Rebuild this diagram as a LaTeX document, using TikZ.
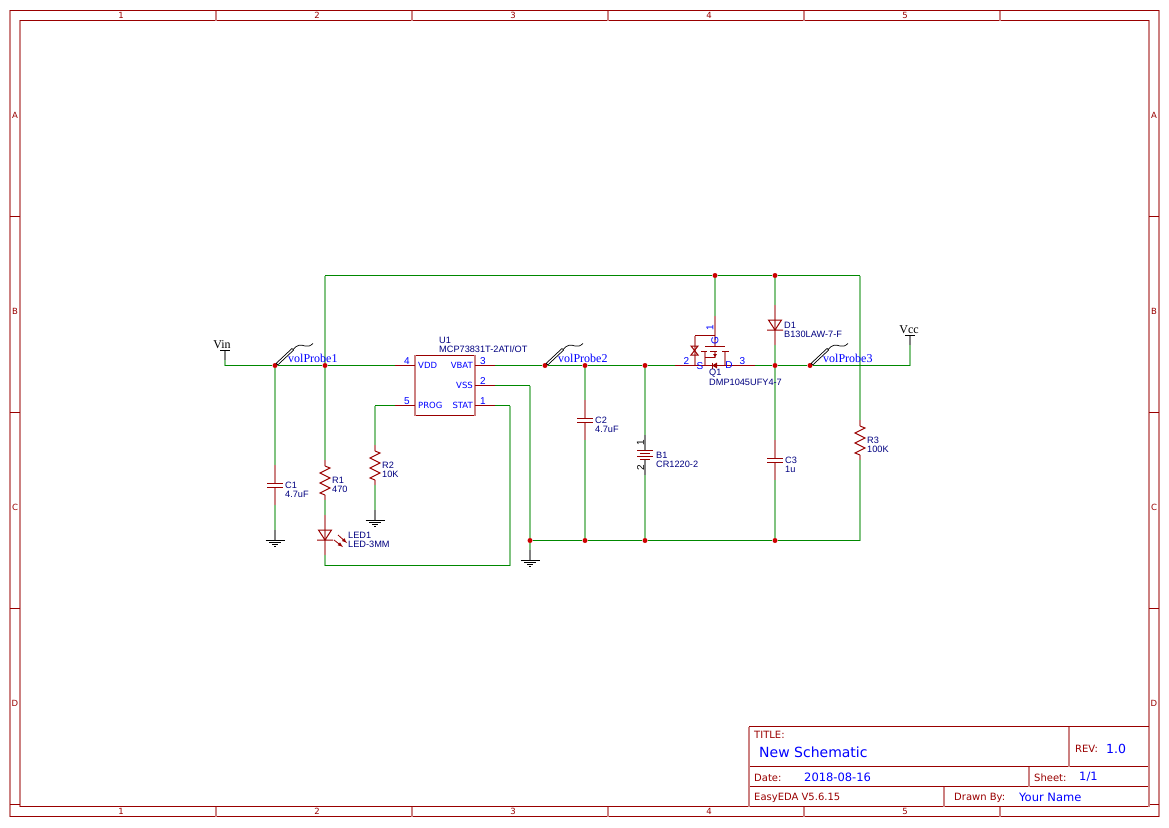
\documentclass[tikz,border=0pt]{standalone}
\usepackage{fontspec}
\setmainfont{DejaVu Sans}
\newfontfamily\partfont{Liberation Sans}
\newfontfamily\probefont{Liberation Serif}
\definecolor{sheetred}{HTML}{990000}
\definecolor{netgreen}{HTML}{008800}
\definecolor{dotred}{HTML}{CC0000}
\definecolor{partblue}{HTML}{000080}
\definecolor{pinblue}{HTML}{0000FF}
\tikzset{
  sheet/.style={draw=sheetred, line width=1pt},
  vsheet/.style={draw=sheetred!50, line width=2pt},
  wire/.style={draw=netgreen, line width=1pt},
  vwire/.style={draw=netgreen!50, line width=2pt},
  partline/.style={draw=sheetred, line width=1pt},
  vpart/.style={draw=sheetred!50, line width=2pt},
  vgray/.style={draw=black!50, line width=2pt},
  junction/.style={circle, fill=dotred, minimum size=5pt, inner sep=0pt},
  sheetlbl/.style={text=sheetred, inner sep=0pt, font=\fontsize{8.5}{8.5}\selectfont},
  titlelbl/.style={text=sheetred, anchor=west, inner sep=0pt, font=\fontsize{10}{10}\selectfont},
  valuelbl/.style={text=pinblue, anchor=west, inner sep=0pt, font=\fontsize{11.5}{11.5}\selectfont},
  partlbl/.style={text=partblue, anchor=west, inner sep=0pt, font=\partfont\fontsize{9.2}{9.2}\selectfont},
  pinlbl/.style={text=pinblue, inner sep=0pt, font=\fontsize{8.5}{8.5}\selectfont},
  pinnum/.style={text=pinblue, inner sep=0pt, font=\partfont\fontsize{10}{10}\selectfont},
  probelbl/.style={text=pinblue, anchor=west, inner sep=0pt, font=\probefont\fontsize{12}{12}\selectfont},
  flaglbl/.style={text=black, inner sep=0pt, font=\probefont\fontsize{12}{12}\selectfont},
  capsym/.pic={
    \coordinate (-a) at (0,-20); \coordinate (-b) at (0,20);
    \draw[vpart] (0,-20) -- (0,-2) (0,2) -- (0,20);
    \draw[partline] (-8,-2) -- (8,-2) (-8,2) -- (8,2);
  },
  ressym/.pic={
    \coordinate (-a) at (0,-20); \coordinate (-b) at (0,20);
    \draw[vpart] (0,-20) -- (0,-14) (0,15) -- (0,20);
    \draw[partline] (0,-14) -- (5,-12) -- (-5,-7) -- (5,-2) -- (-5,3) -- (5,8) -- (-5,13) -- (0,15);
  },
  diodesym/.pic={
    \coordinate (-a) at (0,-20); \coordinate (-b) at (0,20);
    \draw[vpart] (0,-20) -- (0,20);
    \draw[partline] (-6.5,-5) -- (6.5,-5) -- (0,5) -- cycle (-8,5) -- (8,5);
  },
  gndsym/.pic={
    \coordinate (-a) at (0,-10);
    \draw[vgray] (0,-10) -- (0,0);
    \draw[black, line width=.8pt] (-9.5,0) -- (9.5,0) (-6,2) -- (6,2) (-3,4) -- (3,4) (-.8,6) -- (.8,6);
  },
  probesym/.pic={
    \draw[black, line width=.7pt, fill=white] (1.2,-2.2) -- (17,-17) -- (18.6,-15.4) -- (2.8,-.6) -- cycle;
    \draw[black, line width=.7pt] (18,-16) .. controls (22,-21) and (26,-21) .. (30,-19.5) .. controls (33,-18.5) and (35,-19.5) .. (38,-22);
  },
  fetsym/.pic={
    \coordinate (-g) at (0,-50); \coordinate (-s) at (-40,0); \coordinate (-d) at (40,0);
    \draw[vpart] (0,-50) -- (0,-20) (-20,-30) -- (-20,0) (-10,-14.5) -- (-10,0) (10,-14.5) -- (10,0) (0,-14.5) -- (0,-8);
    \draw[partline] (0,-30) -- (-20,-30) (-40,0) -- (40,0);
    \draw[partline] (-10,-19.5) -- (10,-19.5) (-14,-14.5) -- (-8,-14.5) (-5,-14.5) -- (2,-14.5) (7,-14.5) -- (14,-14.5) (0,-8) -- (-10,-8);
    \fill[sheetred] (-2,-11.5) -- (2,-11.5) -- (0,-8.5) -- cycle;
    \draw[partline] (-24,-19.5) -- (-17,-19.5) -- (-20.5,-15) -- cycle (-24,-10.5) -- (-17,-10.5) -- (-20.5,-15) -- cycle;
    \fill[sheetred] (-3,0) -- (2,-3) -- (2,3) -- cycle;
    \draw[partline] (-3,-3) -- (-3,3);
  }
}
\begin{document}
\begin{tikzpicture}[x=1pt, y=-1pt]
\useasboundingbox (0,0) rectangle (1169,827);
% sheet frame
\foreach \x in {10,1159}{ \draw[vsheet] (\x,10) -- (\x,817); }
\foreach \x in {20,1149}{ \draw[vsheet] (\x,20) -- (\x,807); }
\foreach \y in {10.5,816.5}{ \draw[sheet] (10,\y) -- (1159,\y); }
\foreach \y in {20.5,806.5}{ \draw[sheet] (20,\y) -- (1149,\y); }
\foreach \x in {216,412,608,804,1000}{ \draw[vsheet] (\x,10.5) -- (\x,20.5); \draw[vsheet] (\x,806.5) -- (\x,816.5); }
\foreach \y in {216.5,412.5,608.5,804.5}{ \draw[sheet] (10,\y) -- (20,\y); \draw[sheet] (1149,\y) -- (1159,\y); }
\foreach \n/\x in {1/121,2/317,3/513,4/709,5/905}{ \node (top\n) [sheetlbl] at (\x,15.5) {\n}; \node (bot\n) [sheetlbl] at (\x,811.5) {\n}; }
\foreach \n/\y in {A/115,B/311,C/507,D/703}{ \node (left\n) [sheetlbl] at (15,\y) {\n}; \node (right\n) [sheetlbl] at (1154,\y) {\n}; }
% title block
\foreach \y in {726.5,766.5,786.5}{ \draw[sheet] (749,\y) -- (1149,\y); }
\draw[vsheet] (749,726.5) -- (749,806.5); \draw[vsheet] (1149,726.5) -- (1149,806.5);
\draw[vsheet] (1069,726.5) -- (1069,766.5); \draw[vsheet] (1029,766.5) -- (1029,786.5); \draw[vsheet] (944,786.5) -- (944,806.5);
\node (ttl) [titlelbl] at (754,735) {TITLE:}; \node (ttlval) [valuelbl, font=\fontsize{14}{14}\selectfont] at (759,752) {New Schematic};
\node (rev) [titlelbl] at (1075,749) {REV:}; \node (revval) [valuelbl, font=\fontsize{12.5}{12.5}\selectfont] at (1106,749) {1.0};
\node (dat) [titlelbl] at (754,778) {Date:}; \node (datval) [valuelbl] at (804,777) {2018-08-16};
\node (sht) [titlelbl] at (1034,778) {Sheet:}; \node (shtval) [valuelbl] at (1079,777) {1/1};
\node (tool) [titlelbl] at (754,798) {EasyEDA V5.6.15};
\node (drw) [titlelbl] at (954,798) {Drawn By:}; \node (drwval) [valuelbl] at (1019,797) {Your Name};
% corners of the nets
\foreach \n/\x/\y in {vin/225/360,vcc/910/345,vinb/225/365.5,ledc/325/565.5,statb/510/565.5,statt/510/405.5,prog/375/405.5,vssc/530/385.5,botr/860/540.5,vccb/910/365.5,topl/325/275.5,topr/860/275.5}{ \coordinate (\n) at (\x,\y); }
% junctions
\foreach \n/\x/\y in {a/275/365.5,b/325/365.5,c/545/365.5,d/585/365.5,e/645/365.5,f/775/365.5,g/810/365.5,h/715/275.5,i/775/275.5,k/530/540.5,l/585/540.5,m/645/540.5,n/775/540.5}{ \node (j\n) [junction] at (\x,\y) {}; }
% parts
\node (U1) [minimum width=60pt, minimum height=60pt, inner sep=0pt] at (445,385.5) {};
\draw[partline] (U1.north west) -- (U1.north east) (U1.south west) -- (U1.south east);
\draw[vpart] (U1.north west) -- (U1.south west) (U1.north east) -- (U1.south east);
\foreach \n/\xa/\xb/\y in {4/395/415/365.5,5/395/415/405.5,3/495/475/365.5,2/495/475/385.5,1/495/475/405.5}{ \coordinate (pin\n) at (\xa,\y); \draw[partline] (pin\n) -- (\xb,\y); }
\pic (C1) at (275,485) {capsym}; \pic (C2) at (585,420) {capsym}; \pic (C3) at (775,460) {capsym};
\pic (R1) at (325,480) {ressym}; \pic (R2) at (375,465) {ressym}; \pic (R3) at (860,440) {ressym};
\pic (LED1) at (325,535) {diodesym}; \pic (D1) at (775,325) {diodesym};
\draw[sheetred, line width=.8pt, -latex] (334,540) -- (343,547); \draw[sheetred, line width=.8pt, -latex] (338,535) -- (347,543);
\pic (G1) at (275,540) {gndsym}; \pic (G2) at (375,520) {gndsym}; \pic (G3) at (530,560) {gndsym};
\pic (Q1) at (715,365.5) {fetsym};
% battery
\coordinate (B1a) at (645,435); \coordinate (B1b) at (645,475);
\draw[vgray] (B1a) -- (645,450) (645,459) -- (B1b);
\draw[partline] (637,450) -- (653,450) (640,453) -- (650,453) (637,456) -- (653,456) (640,459) -- (650,459);
% nets, vertical runs
\draw[vgray] (vin) -- (225,350.5); \draw[vgray] (vcc) -- (910,335.5);
\draw[black, line width=1pt] (220,350.5) -- (230,350.5); \draw[black, line width=1pt] (905,335.5) -- (915,335.5);
\draw[vwire] (vin) -- (vinb); \draw[vwire] (vcc) -- (vccb);
\draw[vwire] (ja) -- (C1-a); \draw[vwire] (C1-b) -- (G1-a);
\draw[vwire] (jb) -- (R1-a); \draw[vwire] (R1-b) -- (LED1-a); \draw[vwire] (LED1-b) -- (ledc); \draw[vwire] (statb) -- (statt);
\draw[vwire] (prog) -- (R2-a); \draw[vwire] (R2-b) -- (G2-a);
\draw[vwire] (vssc) -- (jk); \draw[vwire] (jk) -- (G3-a);
\draw[vwire] (botr) -- (R3-b); \draw[vwire] (topr) -- (R3-a);
\draw[vwire] (jd) -- (C2-a); \draw[vwire] (C2-b) -- (jl);
\draw[vwire] (je) -- (B1a); \draw[vwire] (B1b) -- (jm);
\draw[vwire] (jb) -- (topl); \draw[vwire] (jh) -- (Q1-g); \draw[vwire] (ji) -- (D1-a); \draw[vwire] (D1-b) -- (jf);
\draw[vwire] (jf) -- (C3-a); \draw[vwire] (C3-b) -- (jn);
% nets, horizontal runs
\draw[wire] (vinb) -- (ja); \draw[wire] (ja) -- (jb); \draw[wire] (jb) -- (pin4);
\draw[wire] (ledc) -- (statb); \draw[wire] (statt) -- (pin1); \draw[wire] (pin5) -- (prog); \draw[wire] (pin2) -- (vssc);
\draw[wire] (pin3) -- (jc); \draw[wire] (jc) -- (jd); \draw[wire] (jd) -- (je); \draw[wire] (je) -- (Q1-s);
\draw[wire] (jk) -- (jl); \draw[wire] (jl) -- (jm); \draw[wire] (jm) -- (jn); \draw[wire] (jn) -- (botr);
\draw[wire] (Q1-d) -- (jf); \draw[wire] (jf) -- (jg); \draw[wire] (jg) -- (vccb);
\draw[wire] (topl) -- (jh); \draw[wire] (jh) -- (ji); \draw[wire] (ji) -- (topr);
% probes
\pic at (275,365.5) {probesym}; \pic at (545,365.5) {probesym}; \pic at (810,365.5) {probesym};
\node (prb1) [probelbl] at (288,358) {volProbe1}; \node (prb2) [probelbl] at (558,358) {volProbe2}; \node (prb3) [probelbl] at (823,358) {volProbe3};
\node (vintxt) [flaglbl] at (222,345) {Vin}; \node (vcctxt) [flaglbl] at (909,330) {Vcc};
% labels
\node (lC1) [partlbl] at (285,485) {C1}; \node (vC1) [partlbl] at (285,494) {4.7uF};
\node (lR1) [partlbl] at (332,480) {R1}; \node (vR1) [partlbl] at (332,489.5) {470};
\node (lR2) [partlbl] at (382,465) {R2}; \node (vR2) [partlbl] at (382,474) {10K};
\node (lLED) [partlbl] at (348,535.5) {LED1}; \node (vLED) [partlbl] at (348,544.5) {LED-3MM};
\node (lU1) [partlbl] at (439,340) {U1}; \node (vU1) [partlbl] at (439,349) {MCP73831T-2ATI/OT};
\node (lC2) [partlbl] at (595,420) {C2}; \node (vC2) [partlbl] at (595,429) {4.7uF};
\node (lB1) [partlbl] at (656,455) {B1}; \node (vB1) [partlbl] at (656,464) {CR1220-2};
\node (lC3) [partlbl] at (785,460) {C3}; \node (vC3) [partlbl] at (785,469) {1u};
\node (lD1) [partlbl] at (784,325) {D1}; \node (vD1) [partlbl] at (784,334) {B130LAW-7-F};
\node (lQ1) [partlbl] at (709,373) {Q1}; \node (vQ1) [partlbl] at (709,382) {DMP1045UFY4-7};
\node (lR3) [partlbl] at (867,440) {R3}; \node (vR3) [partlbl] at (867,449) {100K};
% pin names
\node (nVDD) [pinlbl, anchor=west] at (418,365.5) {VDD}; \node (nPROG) [pinlbl, anchor=west] at (418,405.5) {PROG};
\node (nVBAT) [pinlbl, anchor=east] at (473,365.5) {VBAT}; \node (nVSS) [pinlbl, anchor=east] at (473,385.5) {VSS}; \node (nSTAT) [pinlbl, anchor=east] at (473,405.5) {STAT};
\foreach \n/\x/\y in {4/407/361,5/407/401,3/483/361,2/483/381,1/483/401,2/686.5/361,3/742.5/361}{ \node [pinnum] at (\x,\y) {\n}; }
\node (nS) [pinnum] at (700,366) {S}; \node (nD) [pinnum] at (729,365.5) {D};
\node (nG) [pinnum, rotate=90] at (715,341) {G}; \node (nQ1) [pinnum, rotate=90] at (710,328) {1};
\node (nB1) [pinnum, text=black, rotate=90] at (640.5,442.5) {1}; \node (nB2) [pinnum, text=black, rotate=90] at (640.5,468) {2};
\end{tikzpicture}
\end{document}
